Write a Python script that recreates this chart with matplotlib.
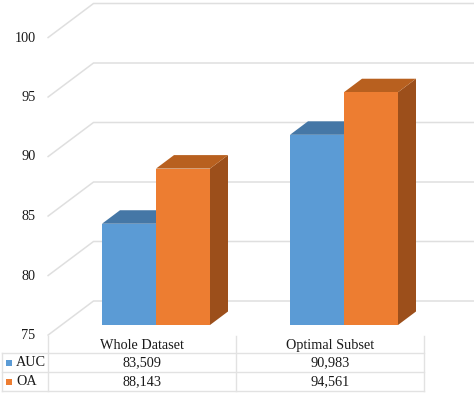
import matplotlib
matplotlib.use("Agg")
import matplotlib.pyplot as plt
from matplotlib.patches import Polygon

categories = ["Whole Dataset", "Optimal Subset"]
series_names = ["AUC", "OA"]
auc_values = [83.509, 90.983]
oa_values = [88.143, 94.561]
cell_auc = ["83,509", "90,983"]
cell_oa = ["88,143", "94,561"]
ticks = [75, 80, 85, 90, 95, 100]

plt.rcParams["font.family"] = ["Liberation Serif", "DejaVu Serif"]
W, H = 474, 395
fig = plt.figure(figsize=(W / 100, H / 100), dpi=100)
ax = fig.add_axes([0, 0, 1, 1])
ax.axis("off")

PX_PER_UNIT = 11.9
Y75 = 335.5  # pixel row of value 75 on the front plane
ax.set_xlim(0, W)
ax.set_ylim(75 - (H - Y75) / PX_PER_UNIT, 75 + Y75 / PX_PER_UNIT)


def du(px):
    return px / PX_PER_UNIT


GRID = "#dfdfdf"
LEFT = 47.5
WALL_DX, WALL_DY = 46, 34.5
TEXT = "#1a1a1a"
for t in ticks:
    ax.plot([LEFT, LEFT + WALL_DX, W], [t, t + du(WALL_DY), t + du(WALL_DY)],
            color=GRID, lw=1.1, zorder=1, solid_capstyle="butt")
    ax.text(35.5, t, str(t), ha="right", va="center", fontsize=10.3, color=TEXT)

colors = [("#5b9bd5", "#4577a6", "#3f6d96"), ("#ed7d31", "#b8601f", "#9c4f1b")]
BAR_W = 54
DX, DY = 18, 13.5
BASE = 75 + du(10.5)
centers = [156, 344]

for c, a, o in zip(centers, auc_values, oa_values):
    for i, (v, (front, top, side)) in enumerate(zip([a, o], colors)):
        x0 = c - BAR_W + i * BAR_W
        x1 = x0 + BAR_W
        z = 3 + i
        top_y = v + du(10.5)
        ax.add_patch(Polygon([(x1, BASE), (x1 + DX, BASE + du(DY)), (x1 + DX, top_y + du(DY)), (x1, top_y)],
                             fc=side, ec="none", zorder=z))
        ax.add_patch(Polygon([(x0, top_y), (x0 + DX, top_y + du(DY)), (x1 + DX, top_y + du(DY)), (x1, top_y)],
                             fc=top, ec="none", zorder=z))
        ax.add_patch(Polygon([(x0, BASE), (x1, BASE), (x1, top_y), (x0, top_y)],
                             fc=front, ec="none", zorder=z + 0.5))


def py(p):
    return 75 + (Y75 - p) / PX_PER_UNIT


LINE = "#e2e2e2"
X_COL = [48, 236, 424]
Y_ROW = [336, 353.5, 372, 391]
for x in X_COL:
    ax.plot([x, x], [py(Y_ROW[0]), py(Y_ROW[-1])], color=LINE, lw=1, zorder=2)
ax.plot([2, 2], [py(Y_ROW[1]), py(Y_ROW[-1])], color=LINE, lw=1, zorder=2)
for r in Y_ROW[1:]:
    ax.plot([2, X_COL[-1]], [py(r), py(r)], color=LINE, lw=1, zorder=2)

centers_tbl = [142, 330]
for xc, cat, a, o in zip(centers_tbl, categories, cell_auc, cell_oa):
    ax.text(xc, py(346), cat, ha="center", va="center", fontsize=10.3, color=TEXT)
    ax.text(xc, py(363), a, ha="center", va="center", fontsize=10.3, color=TEXT)
    ax.text(xc, py(382), o, ha="center", va="center", fontsize=10.3, color=TEXT)

for name, (front, _, _), r in zip(series_names, colors, [363, 382]):
    ax.plot([9.2], [py(r)], marker="s", ms=4.6, color=front, mew=0, zorder=5)
    ax.text(16, py(r), name, ha="left", va="center", fontsize=10.3, color=TEXT)

fig.savefig("out.png", dpi=100)
